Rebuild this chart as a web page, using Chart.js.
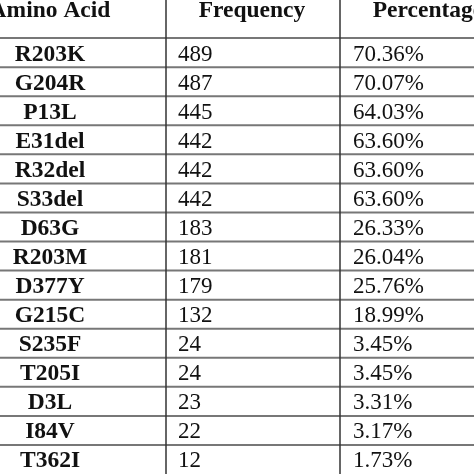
<!DOCTYPE html>
<html>
<head>
<meta charset="utf-8">
<script src="https://cdn.jsdelivr.net/npm/chart.js@4"></script>
<style>
  html, body { margin: 0; padding: 0; background: #fff; }
  #wrap { width: 474px; height: 474px; }
</style>
</head>
<body>
<div id="wrap"><canvas id="table"></canvas></div>
<script>
const headers = ['Amino Acid', 'Frequency', 'Percentage'];
const mutations = ['R203K', 'G204R', 'P13L', 'E31del', 'R32del', 'S33del', 'D63G', 'R203M',
  'D377Y', 'G215C', 'S235F', 'T205I', 'D3L', 'I84V', 'T362I'];
const frequencies = [489, 487, 445, 442, 442, 442, 183, 181, 179, 132, 24, 24, 23, 22, 12];
const percentages = [70.36, 70.07, 64.03, 63.60, 63.60, 63.60, 26.33, 26.04, 25.76, 18.99,
  3.45, 3.45, 3.31, 3.17, 1.73];

const tablePlugin = {
  id: 'tablePlugin',
  afterDraw(chart) {
    const { ctx, scales: { x, y } } = chart;
    ctx.save();
    // lignes
    ctx.strokeStyle = '#777';
    ctx.lineWidth = 2;
    for (let i = 0; i < mutations.length; i++) {
      const py = y.getPixelForValue(i);
      ctx.beginPath();
      ctx.moveTo(x.left, py);
      ctx.lineTo(x.right, py);
      ctx.stroke();
    }
    ctx.strokeStyle = '#333';
    ctx.lineWidth = 1.5;
    [166, 340].forEach((v) => {
      const px = x.getPixelForValue(v);
      ctx.beginPath();
      ctx.moveTo(px, y.top);
      ctx.lineTo(px, y.bottom);
      ctx.stroke();
    });
    // texte
    ctx.fillStyle = '#111';
    ctx.textBaseline = 'alphabetic';
    ctx.font = 'bold 23.5px "Liberation Serif"';
    ctx.textAlign = 'center';
    const hy = y.getPixelForValue(-0.72);
    ctx.fillText(headers[0], x.getPixelForValue(50), hy);
    ctx.fillText(headers[1], x.getPixelForValue(252), hy);
    ctx.fillText(headers[2], x.getPixelForValue(428), hy);
    mutations.forEach((m, i) => {
      const py = y.getPixelForValue(i + 0.5) + 8;
      ctx.font = 'bold 23.5px "Liberation Serif"';
      ctx.textAlign = 'center';
      ctx.fillText(m, x.getPixelForValue(50), py);
      ctx.font = '23px "Liberation Serif"';
      ctx.textAlign = 'left';
      ctx.fillText(String(frequencies[i]), x.getPixelForValue(178), py);
      ctx.fillText(percentages[i].toFixed(2) + '%', x.getPixelForValue(353), py);
    });
    ctx.restore();
  }
};

new Chart(document.getElementById('table'), {
  type: 'scatter',
  data: { datasets: [{ data: [], pointRadius: 0 }] },
  options: {
    responsive: true,
    maintainAspectRatio: false,
    animation: false,
    layout: { padding: 0 },
    plugins: { legend: { display: false }, tooltip: { enabled: false } },
    scales: {
      x: { type: 'linear', min: 0, max: 474, display: false },
      y: { type: 'linear', min: -1.31, max: 15, reverse: true, display: false }
    }
  },
  plugins: [tablePlugin]
});
</script>
</body>
</html>
